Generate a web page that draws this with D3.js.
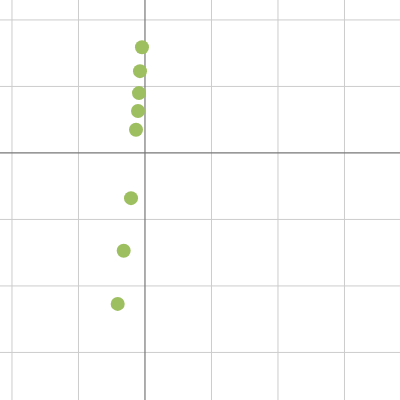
<!DOCTYPE html>
<html><head><meta charset="utf-8">
<script src="https://cdn.jsdelivr.net/npm/d3@7"></script>
<style>body{margin:0;background:#fff}</style></head>
<body><svg id="chart" width="400" height="400"></svg>
<script>
// point data (graph units)
const xs = [-0.045, -0.075, -0.09, -0.105, -0.135, -0.21, -0.32, -0.41];
const ys = [1.59, 1.23, 0.90, 0.63, 0.35, -0.68, -1.47, -2.27];
const gridX = [-2, -1, 1, 2, 3];
const gridY = [-3, -2, -1, 1, 2];

const width = 400, height = 400;
const x = d3.scaleLinear().domain([-2.18, 3.835]).range([0, width]);
const y = d3.scaleLinear().domain([2.30, -3.715]).range([0, height]);

const svg = d3.select("#chart");

svg.append("g").selectAll("line").data(gridX).enter().append("line")
   .attr("x1", d => x(d)).attr("x2", d => x(d))
   .attr("y1", 0).attr("y2", height)
   .attr("stroke", "#ccc").attr("stroke-width", 1);
svg.append("g").selectAll("line").data(gridY).enter().append("line")
   .attr("y1", d => y(d)).attr("y2", d => y(d))
   .attr("x1", 0).attr("x2", width)
   .attr("stroke", "#ccc").attr("stroke-width", 1);

// axes
svg.append("line").attr("x1", x(0)).attr("x2", x(0)).attr("y1", 0).attr("y2", height)
   .attr("stroke", "#777").attr("stroke-width", 1.2);
svg.append("line").attr("y1", y(0)).attr("y2", y(0)).attr("x1", 0).attr("x2", width)
   .attr("stroke", "#777").attr("stroke-width", 1.2);

svg.append("g").selectAll("circle").data(xs.map((v, i) => [v, ys[i]])).enter()
   .append("circle")
   .attr("cx", d => x(d[0])).attr("cy", d => y(d[1]))
   .attr("r", 7).attr("fill", "#9dbf60");
</script></body></html>
